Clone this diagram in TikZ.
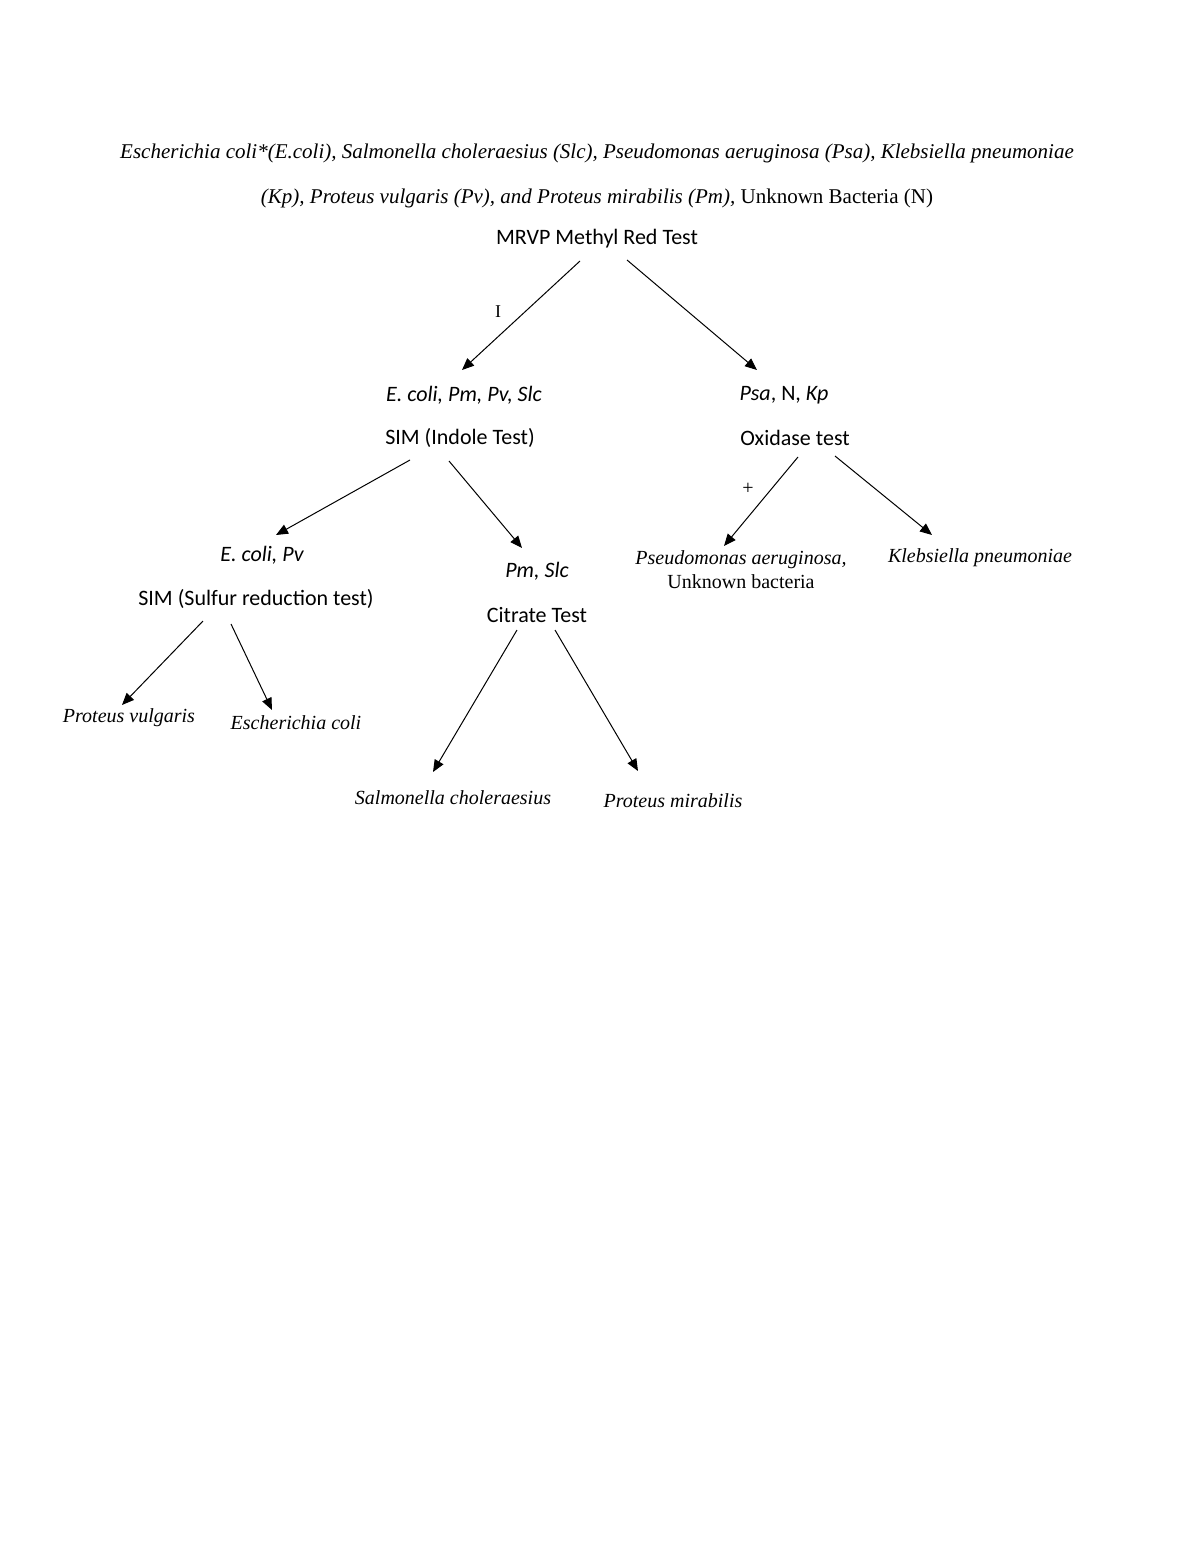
\documentclass[tikz,border=0pt]{standalone}
\usepackage{fontspec}
\setmainfont{Liberation Serif}
\newfontfamily\calfont{Carlito}
\usetikzlibrary{arrows.meta}
\begin{document}
\begin{tikzpicture}[x=0.5pt,y=-0.5pt,
  lab/.style={font=\calfont\fontsize{11pt}{13pt}\selectfont,inner sep=0pt},
  leaf/.style={font=\fontsize{10pt}{12pt}\selectfont\itshape,inner sep=0pt,align=center},
  arr/.style={-{Triangle[length=6pt,width=5pt]},line width=0.5pt}]
\useasboundingbox (0,0) rectangle (1200,1553);
\fill[white] (0,0) rectangle (1200,1553);
\node[inner sep=0pt,font=\fontsize{10.5pt}{12pt}\selectfont\itshape] (h1) at (597,153) {Escherichia coli*(E.coli), Salmonella choleraesius (Slc), Pseudomonas aeruginosa (Psa), Klebsiella pneumoniae};
\node[inner sep=0pt,font=\fontsize{10.5pt}{12pt}\selectfont] (h2) at (597,198) {\itshape (Kp), Proteus vulgaris (Pv), and Proteus mirabilis (Pm),\upshape{} Unknown Bacteria (N)};
\node[lab] (mrvp) at (597,239) {MRVP Methyl Red Test};
\node[lab] (ec1) at (464,395) {\itshape E. coli, Pm, Pv, Slc};
\node[lab] (sim1) at (460,438) {SIM (Indole Test)};
\node[lab] (psa) at (784,395) {\itshape Psa\upshape, N, \itshape Kp};
\node[lab] (ox) at (795,438) {Oxidase test};
\node[lab] (ec2) at (262,555) {\itshape E. coli, Pv};
\node[lab] (sim2) at (256,599) {SIM (Sulfur reduction test)};
\node[lab] (pm) at (537,571) {\itshape Pm, Slc};
\node[lab] (cit) at (537,615) {Citrate Test};
\node[leaf] (pa) at (741,570) {Pseudomonas aeruginosa,\\\upshape Unknown bacteria};
\node[leaf] (kp) at (980,558) {Klebsiella pneumoniae};
\node[leaf] (pv) at (129,718) {Proteus vulgaris};
\node[leaf] (ec) at (296,723) {Escherichia coli};
\node[leaf] (sc) at (453,798) {Salmonella choleraesius};
\node[leaf] (pmi) at (673,801) {Proteus mirabilis};
\node[lab,font=\fontsize{9pt}{10pt}\selectfont] (i) at (498,312) {I};
\node[lab,font=\fontsize{10pt}{10pt}\selectfont] (plus) at (748,489) {+};
\coordinate (a1) at (580,261); \coordinate (b1) at (462,370);
\coordinate (a2) at (627,260); \coordinate (b2) at (757,370);
\coordinate (a3) at (410,460); \coordinate (b3) at (276,535);
\coordinate (a4) at (449,461); \coordinate (b4) at (522,548);
\coordinate (a5) at (798,457); \coordinate (b5) at (724,546);
\coordinate (a6) at (835,456); \coordinate (b6) at (932,535);
\coordinate (a7) at (203,621); \coordinate (b7) at (122,705);
\coordinate (a8) at (231,624); \coordinate (b8) at (272,710);
\coordinate (a9) at (517,630); \coordinate (b9) at (433,772);
\coordinate (a10) at (555,630); \coordinate (b10) at (638,771);
\foreach \k in {1,...,10} \draw[arr] (a\k) -- (b\k);
\end{tikzpicture}
\end{document}
